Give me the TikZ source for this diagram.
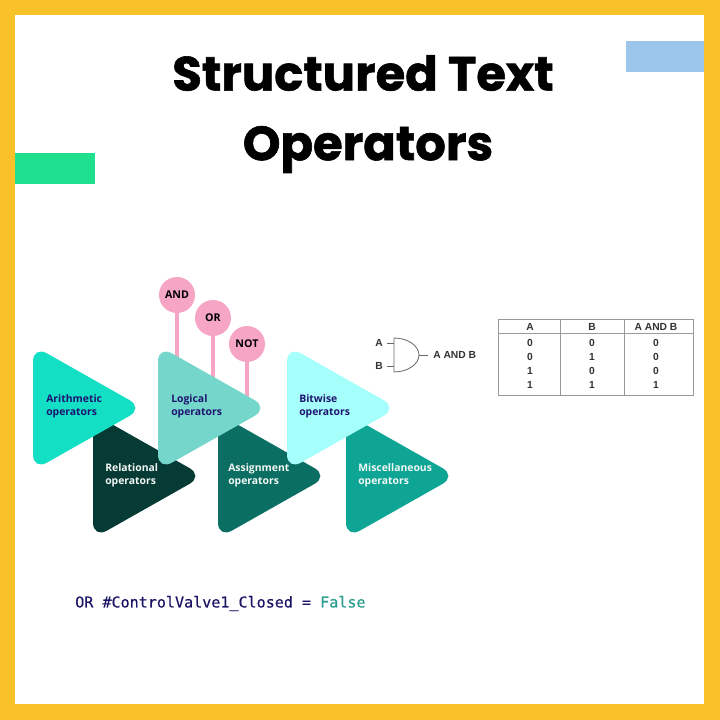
\documentclass[tikz,border=0pt]{standalone}
\usepackage{fontspec}
\setmainfont{Open Sans}
\newfontfamily\titleheavy[FakeBold=1.2]{Poppins Bold}
\newfontfamily\gatefont{Liberation Sans}
\newfontfamily\codefont[FakeBold=0.35]{DejaVu Sans Mono}
\definecolor{frameY}{HTML}{F9C22B}
\definecolor{blueR}{HTML}{9CC5EC}
\definecolor{greenR}{HTML}{1FE08F}
\definecolor{pinkC}{HTML}{F6A6C4}
\definecolor{navyT}{HTML}{1E1470}
\definecolor{offW}{HTML}{F2F7F5}
\definecolor{triA}{HTML}{13DFC5}
\definecolor{triB}{HTML}{063B35}
\definecolor{triC}{HTML}{75D6CB}
\definecolor{triD}{HTML}{0B6E62}
\definecolor{triE}{HTML}{A5FFFB}
\definecolor{triF}{HTML}{0EA595}
\definecolor{gridG}{HTML}{9A9A9A}
\definecolor{codeB}{HTML}{1A1464}
\definecolor{codeG}{HTML}{2A9D8F}
\tikzset{
 x=0.75pt,y=-0.75pt,
 tribox/.style={fill=#1,rounded corners=12pt},
 oplabel/.style={anchor=west,align=left,inner sep=0pt,font=\fontsize{7.8}{10}\selectfont\bfseries,text=#1},
 bubble/.style={circle,fill=pinkC,minimum size=27pt,inner sep=0pt,font=\fontsize{8}{10}\selectfont\bfseries,text=black},
 stem/.style={draw=pinkC,line width=3.4pt},
 gateline/.style={draw=black!60,line width=0.6pt},
 gatelabel/.style={inner sep=0pt,font=\gatefont\fontsize{7.7}{9}\selectfont\bfseries,text=black!80},
 gridline/.style={draw=gridG,line width=0.7pt},
 titletext/.style={inner sep=0pt,font=\titleheavy\fontsize{36}{40}\selectfont,text=black},
}
\newcommand{\optri}[3]{\path[tribox=#3] (#1,#2) -- (#1,#2-62.5) -- (#1+110.5,#2) -- (#1,#2+62.5) -- cycle;}
\begin{document}
\begin{tikzpicture}
\useasboundingbox (0,0) rectangle (720,720);
\fill[frameY] (0,0) rectangle (720,720);
\fill[white] (15,15) rectangle (704,704);
\fill[blueR] (626,41) rectangle (704,72);
\fill[greenR] (15,153) rectangle (95,184);
\node[titletext] (t1) at (363,73) {Structured Text};
\node[titletext] (t2) at (368,149.5) {Operators};
% lower triangles
\optri{93}{476}{triB}
\optri{218}{476}{triD}
\optri{346}{476}{triF}
% bubbles and stems
\node[bubble] (and) at (177,295) {AND};
\node[bubble] (or) at (213,318) {OR};
\node[bubble] (not) at (247,344) {NOT};
\coordinate (andEnd) at (177,380);
\coordinate (orEnd) at (213,390);
\coordinate (notEnd) at (247,400);
\draw[stem] (and) -- (andEnd);
\draw[stem] (or) -- (orEnd);
\draw[stem] (not) -- (notEnd);
% upper triangles
\optri{33}{408}{triA}
\optri{158}{408}{triC}
\optri{287}{408}{triE}
\node[oplabel=navyT] (arith) at (46,406.5) {Arithmetic\\operators};
\node[oplabel=navyT] (logic) at (171,406.5) {Logical\\operators};
\node[oplabel=navyT] (bit) at (299,406.5) {Bitwise\\operators};
\node[oplabel=offW] (rel) at (105,475.5) {Relational\\operators};
\node[oplabel=offW] (assign) at (228,475.5) {Assignment\\operators};
\node[oplabel=offW] (misc) at (358,475.5) {Miscellaneous\\operators};
% gate
\node[gatelabel] (la) at (379,343) {A};
\node[gatelabel] (lb) at (379,365.5) {B};
\node[gatelabel,anchor=west] (lo) at (433,354.5) {A AND B};
\coordinate (pa) at (394,343);
\coordinate (pb) at (394,366);
\coordinate (po) at (419,355);
\draw[gateline] (387,343) -- (pa);
\draw[gateline] (387,366) -- (pb);
\draw[gateline] (po) -- (428,355);
\draw[gateline] (394,338) -- (394,372) .. controls (408,372) and (419,364) .. (419,355) .. controls (419,346) and (408,338) .. (394,338) -- cycle;
% table
\draw[gridline] (498.5,319) rectangle (693,395);
\draw[gridline] (498.5,333) -- (693,333);
\draw[gridline] (560,319) -- (560,395);
\draw[gridline] (624,319) -- (624,395);
\foreach \n/\x/\y/\s in {h1/530/326.5/A,h2/592/326.5/B,h3/656/326.5/A AND B,
 a1/530/343/0,b1/592/343/0,c1/656/343/0,
 a2/530/356.5/0,b2/592/356.5/1,c2/656/356.5/0,
 a3/530/370.5/1,b3/592/370.5/0,c3/656/370.5/0,
 a4/530/384.5/1,b4/592/384.5/1,c4/656/384.5/1}
 \node[gatelabel] (\n) at (\x,\y) {\s};
% code
\node[anchor=west,inner sep=0pt,font=\codefont\fontsize{11.3}{13}\selectfont] (code) at (75,603.5) {\textcolor{codeB}{OR \#ControlValve1\_Closed = }\textcolor{codeG}{False}};
\end{tikzpicture}
\end{document}
